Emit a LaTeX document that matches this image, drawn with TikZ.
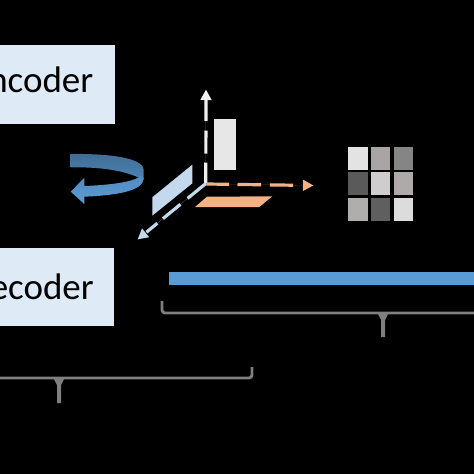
\documentclass[tikz,border=0pt]{standalone}
\usepackage{fontspec}
\setmainfont{Carlito}
\usetikzlibrary{arrows.meta}
\definecolor{boxfill}{HTML}{DEEBF7}
\definecolor{axwhite}{HTML}{EFEFEF}
\definecolor{planewhite}{HTML}{E7E7E7}
\definecolor{axorange}{HTML}{F4B183}
\definecolor{axblue}{HTML}{C5D9EE}
\definecolor{barblue}{HTML}{5B9BD5}
\definecolor{bracegray}{HTML}{7F7F7F}
\tikzset{
  x=1pt,y=-1pt,
  axisline/.style={line width=3.2pt,-{Triangle[length=10.5pt,width=10.5pt]}},
  bracket/.style={draw=bracegray,line width=2.8pt,rounded corners=3pt},
  tick/.style={fill=bracegray,draw=none},
  label/.style={font=\fontsize{37}{40}\selectfont,text=black,anchor=base east,inner sep=0pt}
}
\begin{document}
\begin{tikzpicture}
\useasboundingbox (0,0) rectangle (474,474);
\fill[black] (0,0) rectangle (474,474);
\begin{scope}
\clip (0,0) rectangle (474,474);
\fill[boxfill] (-10,45) rectangle (115,123.5);
\fill[boxfill] (-10,248) rectangle (113.5,326);
\node[label] (enc) at (93.5,92.5) {Encoder};
\node[label] (dec) at (94,299.5) {Decoder};

% planes
\fill[planewhite] (213.7,118.7) rectangle (236,170.3);
\fill[axblue] (152.3,197.3) -- (192.3,164.7) -- (192.3,183.3) -- (152.3,215.7) -- cycle;
\fill[axorange] (195,207) -- (207,196.7) -- (272.3,196.3) -- (259.3,207) -- cycle;

% axes
\coordinate (o) at (205.8,183.5);
\coordinate (ox) at (206.5,184);
\coordinate (up) at (206,89.5);
\coordinate (right) at (313.5,185.5);
\coordinate (dl) at (137.5,239.5);
\draw[axisline,draw=axwhite,fill=axwhite,dash pattern=on 21pt off 9pt on 23pt off 9.5pt on 22pt off 10pt] (o) -- (up);
\draw[axisline,draw=axorange,fill=axorange,dash pattern=on 22.7pt off 8.3pt on 23.7pt off 8.7pt on 23.3pt off 10pt] (ox) -- (right);
\draw[axisline,draw=axblue,fill=axblue,dash pattern=on 23.4pt off 9.5pt on 22.5pt off 7.3pt on 14pt off 10pt] (o) -- (dl);

% rotation arrow
\shade[top color=barblue!70!black,bottom color=barblue!85!black]
  (70.7,154) .. controls (105,153.5) and (143.5,157) .. (143.7,170)
  -- (143.7,180) .. controls (125,170) and (100,167) .. (70.7,167.3) -- cycle;
\shade[top color=barblue!90!black,bottom color=barblue]
  (143.7,178) .. controls (144,192) and (112,195.5) .. (84.3,196.7)
  -- (84.3,204) -- (70.7,191.7) -- (84.3,177.7) -- (84.3,186)
  .. controls (110,185) and (135,182) .. (141,175.5) -- cycle;

% grid
\foreach \xa/\ya/\c in {
  348.3/147/E3E3E3, 370.7/147/A9A5A5, 393.7/147/858585,
  348.3/172.3/5A5A5A, 370.7/172.3/CFCDCD, 393.7/172.3/AEAAAA,
  348.3/198.3/B0ADAD, 370.7/198.3/5F5F5F, 393.7/198.3/DCDCDC}{
  \definecolor{cellc}{HTML}{\c}
  \fill[cellc] (\xa,\ya) rectangle +(19.4,22.5);
}

% bar
\fill[barblue] (169.3,272.3) rectangle (480,285);

% brackets
\coordinate (ra) at (162,301);
\coordinate (rb) at (162,313);
\coordinate (rc) at (480,313);
\draw[bracket] (ra) -- (rb) -- (rc);
\fill[tick] (377,312) -- (389,312) -- (385,320) -- (385,337) -- (381,337) -- (381,320) -- cycle;
\coordinate (la) at (252,367);
\coordinate (lb) at (252,378);
\coordinate (lc) at (-5,378);
\draw[bracket] (la) -- (lb) -- (lc);
\fill[tick] (53,377) -- (65,377) -- (61,385) -- (61,403) -- (57,403) -- (57,385) -- cycle;
\end{scope}
\end{tikzpicture}
\end{document}
